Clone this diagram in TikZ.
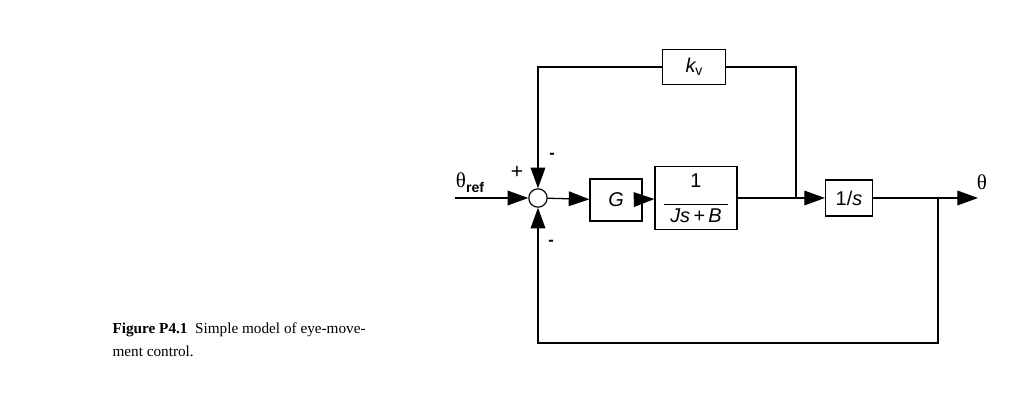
\documentclass[tikz,border=0pt]{standalone}
\usepackage{fontspec}
\setmainfont{Liberation Serif}
\newfontfamily\hv{Liberation Sans}
\usetikzlibrary{arrows.meta}
\begin{document}
\begin{tikzpicture}[x=0.03cm,y=-0.03cm,line width=1.1pt,
  blk/.style={draw,line width=1pt,inner sep=0pt,font=\hv\fontsize{17}{19}\selectfont\itshape},
  ar/.style={-{Triangle[length=0.62cm,width=0.44cm]}},
  lab/.style={font=\fontsize{18}{20}\selectfont}]
\useasboundingbox (0,0) rectangle (1024,403);
\node[draw,circle,minimum size=0.55cm,inner sep=0pt,line width=1pt] (s) at (538,198) {};
\node[blk,minimum width=52*0.03cm,minimum height=42*0.03cm] (g) at (616,200) {G};
\node[blk,minimum width=82*0.03cm,minimum height=63*0.03cm,align=center] (p) at (696,198) {\upshape 1\\[-4pt]\rule{1.9cm}{0.6pt}\\[-4pt]\itshape Js\,\upshape+\,\itshape B};
\node[blk,minimum width=47*0.03cm,minimum height=36*0.03cm] (i) at (849,198) {\upshape 1/\itshape s};
\node[blk,minimum width=63*0.03cm,minimum height=35*0.03cm] (k) at (694,67) {k\raisebox{-3pt}{\upshape\fontsize{12}{12}\selectfont v}};
\coordinate (in) at (455,198);
\coordinate (j) at (796,198);
\coordinate (o) at (938,198);
\coordinate (out) at (978,198);
\draw[ar] (in) -- (s);
\draw[ar] (s) -- (g);
\draw[ar] (g) -- (p);
\draw (p) -- (j);
\draw[ar] (j) -- (i);
\draw[ar] (i) -- (out);
\draw (j) |- (k);
\draw[ar] (k) -| (s);
\draw[ar] (o) |- (538,343) -- (s);
\node[lab] at (470,183) {θ\raisebox{-4pt}{\hv\bfseries\fontsize{12}{12}\selectfont ref}};
\node[lab] at (982,182) {θ};
\node[font=\hv\fontsize{18}{18}\selectfont] at (517,172) {+};
\node[font=\hv\bfseries\fontsize{14}{14}\selectfont] at (552,156) {-};
\node[font=\hv\bfseries\fontsize{14}{14}\selectfont] at (551,243) {-};
\node[anchor=north west,align=left,font=\fontsize{13}{20}\selectfont] at (108,318) {\textbf{Figure P4.1}\ \ Simple model of eye-move-\\ment control.};
\end{tikzpicture}
\end{document}
